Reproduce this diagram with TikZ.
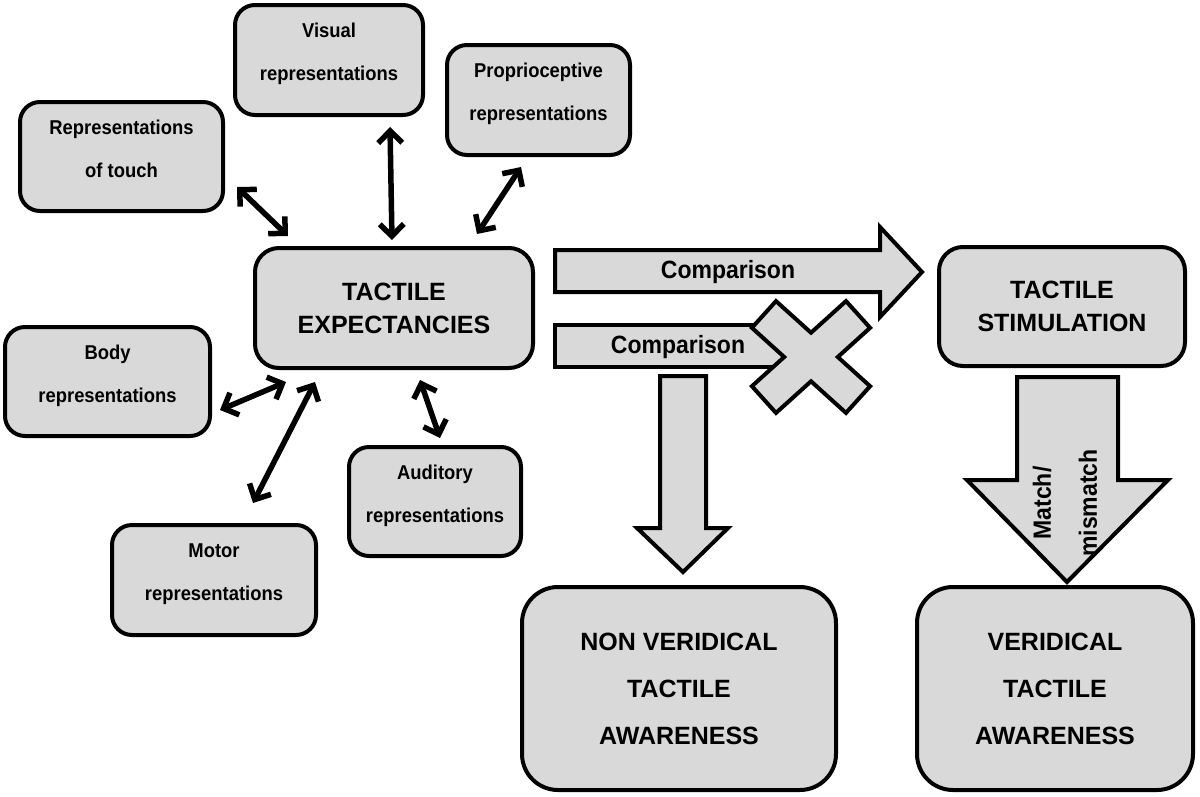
\documentclass[tikz,border=0pt]{standalone}
\usepackage{fontspec}
\setmainfont{Liberation Sans}
\newfontfamily\condfont[FakeStretch=0.92]{Liberation Sans}
\usetikzlibrary{arrows.meta,calc}
\definecolor{boxgray}{RGB}{217,217,217}
\newcommand{\lstr}{\rule[-17pt]{0pt}{32pt}}
\begin{document}
\begin{tikzpicture}[x=1pt,y=-1pt,
  box/.style={draw=black, line width=4pt, fill=boxgray, rounded corners=20pt, align=center, inner sep=0pt, font=\condfont\bfseries\fontsize{20}{43}\selectfont},
  bigbox/.style={box, font=\bfseries\fontsize{25}{33}\selectfont, rounded corners=24pt},
  hugebox/.style={box, font=\bfseries\fontsize{25}{47}\selectfont, rounded corners=36pt},
  blockarrow/.style={draw=black, line width=4pt, fill=boxgray, line join=miter},
  dbl/.style={line width=5.5pt, {Straight Barb[length=12pt,width=24pt]}-{Straight Barb[length=12pt,width=24pt]}},
  lbl/.style={font=\condfont\bfseries\fontsize{25}{46}\selectfont, inner sep=0pt, align=center}
]
\useasboundingbox (0,0) rectangle (1200,796);

% block arrows (drawn first)
\draw[blockarrow] (555,250) -- (880,250) -- (880,227) -- (922,272) -- (880,317) -- (880,292) -- (555,292) -- cycle;
\node[lbl] (cmp1) at (728,272) {Comparison};
\draw[blockarrow] (555,325) rectangle (793,367);
\node[lbl] (cmp2) at (678,347) {Comparison};
\draw[blockarrow, shift={(811,357)}] (0,-24.3) -- (35,-55.9) -- (59.1,-29.2) -- (26.8,0) -- (59.1,29.2) -- (35,55.9) -- (0,24.3) -- (-35,55.9) -- (-59.1,29.2) -- (-26.8,0) -- (-59.1,-29.2) -- (-35,-55.9) -- cycle;
\draw[blockarrow] (660,376) -- (706,376) -- (706,528) -- (728,528) -- (683,572) -- (637,528) -- (660,528) -- cycle;
\draw[blockarrow] (1017,377) -- (1118,377) -- (1118,480) -- (1168,480) -- (1067,582) -- (967,480) -- (1017,480) -- cycle;
\node[lbl, rotate=90] (mm) at (1065,503) {Match/\\mismatch};

% boxes
\node[box, minimum width=203, minimum height=109] (touch) at (121.5,156.5) {\lstr Representations\\of touch\lstr};
\node[box, minimum width=188, minimum height=110] (visual) at (329,60) {\lstr Visual\\representations\lstr};
\node[box, minimum width=183, minimum height=110] (proprio) at (538.5,100) {\lstr Proprioceptive\\representations\lstr};
\node[bigbox, minimum width=278, minimum height=120] (te) at (394,308) {TACTILE\\EXPECTANCIES};
\node[box, minimum width=205, minimum height=109] (body) at (107.5,381.5) {\lstr Body\\representations\lstr};
\node[box, minimum width=204, minimum height=110] (motor) at (214,580) {\lstr Motor\\representations\lstr};
\node[box, minimum width=172, minimum height=109] (auditory) at (435,501.5) {\lstr Auditory\\representations\lstr};
\node[bigbox, minimum width=246, minimum height=119] (ts) at (1062,306.5) {TACTILE\\STIMULATION};
\node[hugebox, minimum width=314, minimum height=203] (nv) at (679,688.5) {NON VERIDICAL\\TACTILE\\AWARENESS};
\node[hugebox, minimum width=276, minimum height=203] (ver) at (1055,688.5) {VERIDICAL\\TACTILE\\AWARENESS};

% double-headed connectors
\draw[dbl] ($(touch.south east)+(12,-26)$) -- ($(te.north west)+(35,-10)$);
\draw[dbl] ($(visual.south east)+(-35,10)$) -- ($(te.north)+(-2,-6)$);
\draw[dbl] ($(proprio.south west)+(76,10)$) -- ($(te.north east)+(-58,-12)$);
\draw[dbl] ($(body.south east)+(8,-28)$) -- ($(te.south west)+(33,12)$);
\draw[dbl] ($(motor.north west)+(143,-20)$) -- ($(te.south west)+(62,12)$);
\draw[dbl] ($(te.south)+(26,10)$) -- ($(auditory.north)+(5,-7)$);
\end{tikzpicture}
\end{document}
